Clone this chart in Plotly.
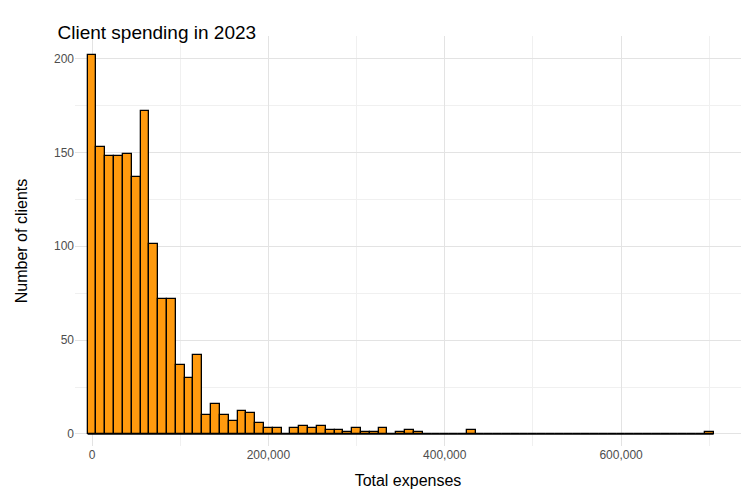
import plotly.graph_objects as go

bin_width = 10000
counts = {0:202,1:153,2:148,3:148,4:149,5:137,6:172,7:101,8:72,9:72,10:37,11:30,12:42,
          13:10,14:16,15:10,16:7,17:12,18:11,19:6,20:3,21:3,22:0,23:3,24:4,25:3,26:4,27:2,
          28:2,29:1,30:3,31:1,32:1,33:3,34:0,35:1,36:2,37:1,43:2,70:1}
centers = [i*bin_width for i in range(71)]
values = [counts.get(i, 0) for i in range(71)]

fig = go.Figure(go.Bar(x=centers, y=values, width=bin_width,
                       marker=dict(color="#FF9A0E", line=dict(color="black", width=1.3))))
fig.add_shape(type="line", x0=-5000, x1=705000, y0=0, y1=0, line=dict(color="black", width=1.3))
fig.update_layout(
    width=750, height=499, plot_bgcolor="white", paper_bgcolor="white",
    margin=dict(l=67, r=17, t=28, b=61),
    font=dict(family="Liberation Sans, Arial", color="#333"),
    title=dict(text="Client spending in 2023", x=0.066, xanchor="left", y=0.965,
               font=dict(size=19, color="black")),
    xaxis=dict(title=dict(text="Total expenses", font=dict(size=16, color="black"), standoff=13),
               range=[-19300, 736000], tickvals=[0,200000,400000,600000], tickformat=",",
               showgrid=True, gridcolor="#e3e3e3", zeroline=False, tickfont=dict(size=12, color="#4d4d4d"),
               minor=dict(tickvals=[100000,300000,500000,700000], showgrid=True, gridcolor="#f0f0f0")),
    yaxis=dict(title=dict(text="Number of clients", font=dict(size=16, color="black"), standoff=22),
               range=[-6.4, 212], tickvals=[0,50,100,150,200],
               showgrid=True, gridcolor="#e3e3e3", zeroline=False, tickfont=dict(size=12, color="#4d4d4d"),
               minor=dict(tickvals=[25,75,125,175], showgrid=True, gridcolor="#f0f0f0")),
    bargap=0, showlegend=False,
)
fig.write_html("out.html")
